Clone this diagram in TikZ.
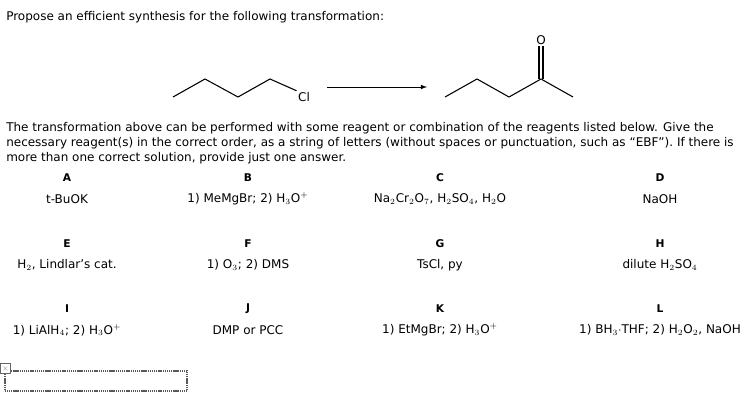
\documentclass[tikz,border=0pt]{standalone}
\usepackage{fontspec}
\setmainfont{DejaVu Sans}
\begin{document}
\begin{tikzpicture}[x=0.75pt,y=-0.75pt,
  txt/.style={anchor=west,inner sep=0,font=\fontsize{9pt}{11pt}\selectfont},
  lbl/.style={inner sep=0,font=\bfseries\fontsize{8pt}{10pt}\selectfont},
  rg/.style={inner sep=0,font=\fontsize{9pt}{11pt}\selectfont},
  bond/.style={line width=0.8pt}]
\useasboundingbox (0,0) rectangle (756,406);
\node[txt] (t1) at (6,17) {Propose an efficient synthesis for the following transformation:};
\node[txt] (p1) at (6,128) {The transformation above can be performed with some reagent or combination of the reagents listed below. Give the};
\node[txt] (p2) at (6,143) {necessary reagent(s) in the correct order, as a string of letters (without spaces or punctuation, such as “EBF”). If there is};
\node[txt] (p3) at (6,158) {more than one correct solution, provide just one answer.};
% molecules
\coordinate (a1) at (173,97); \coordinate (a2) at (205,79); \coordinate (a3) at (238,97); \coordinate (a4) at (270,79);
\node[inner sep=1pt,font=\fontsize{9pt}{10pt}\selectfont] (cl) at (304,97) {Cl};
\draw[bond] (a1)--(a2)--(a3)--(a4)--(cl.north west);
\coordinate (r0) at (327,87); \coordinate (r1) at (427,87);
\draw[line width=0.6pt,-latex] (r0)--(r1);
\coordinate (b1) at (445,97); \coordinate (b2) at (477,79); \coordinate (b3) at (509,97); \coordinate (b4) at (541,79); \coordinate (b5) at (573,97);
\node[inner sep=1pt,font=\fontsize{9pt}{10pt}\selectfont] (ox) at (541,40) {O};
\draw[bond] (b1)--(b2)--(b3)--(b4)--(b5);
\draw[bond] ([xshift=-1.5]b4)--([xshift=-1.5]ox.south);
\draw[bond] ([xshift=1.5]b4)--([xshift=1.5]ox.south);
% reagents
\foreach \n/\x/\y/\t in {A/67/178/t-BuOK, B/248/178/{1) MeMgBr; 2) H$_3$O$^+$}, C/440/178/{Na$_2$Cr$_2$O$_7$, H$_2$SO$_4$, H$_2$O}, D/660/178/NaOH,
  E/67/244/{H$_2$, Lindlar's cat.}, F/248/244/{1) O$_3$; 2) DMS}, G/440/244/{TsCl, py}, H/660/244/{dilute H$_2$SO$_4$},
  I/67/309/{1) LiAlH$_4$; 2) H$_3$O$^+$}, J/248/309/{DMP or PCC}, K/440/309/{1) EtMgBr; 2) H$_3$O$^+$}, L/660/309/{1) BH$_3$$\cdot$THF; 2) H$_2$O$_2$, NaOH}}
{
  \node[lbl] (l\n) at (\x,\y) {\n};
  \node[rg] (g\n) at (\x,\y+21) {\t};
}
% answer box
\node[draw=gray!70!black,dash pattern=on 1pt off 0.6pt,line width=1.3pt,minimum width=137pt,minimum height=15pt,inner sep=0] (box) at (96,381) {};
\node[draw=gray!80!black,fill=white,line width=0.6pt,minimum size=8pt,inner sep=0,font=\tiny\bfseries,text=gray] (ic) at (5.5,368.5) {$\times$};
\end{tikzpicture}
\end{document}
